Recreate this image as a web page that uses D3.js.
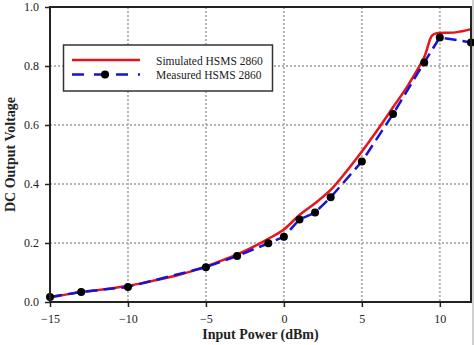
<!DOCTYPE html>
<html><head><meta charset="utf-8">
<script src="https://cdn.jsdelivr.net/npm/d3@7"></script>
<style>body{margin:0;background:#fff}svg{display:block}</style>
</head><body>
<svg id="c" width="474" height="345"></svg>
<script>
const simX = [-15,-14,-13,-12,-11,-10,-9,-8,-7,-6,-5,-4,-3,-2,-1,0,1,2,3,4,5,6,7,8,9,9.5,9.8,10,11,12];
const simY = [0.015,0.025,0.034,0.040,0.047,0.055,0.065,0.076,0.088,0.103,0.121,0.140,0.161,0.186,0.214,0.246,0.295,0.335,0.380,0.442,0.510,0.583,0.660,0.738,0.830,0.903,0.911,0.912,0.914,0.925];
const measX = [-15,-13,-10,-5,-3,-1,0,1,2,3,5,7,9,10,12];
const measY = [0.017,0.034,0.051,0.118,0.156,0.199,0.221,0.280,0.303,0.355,0.476,0.637,0.812,0.897,0.880];
const xTicks = [-15,-10,-5,0,5,10];
const yTicks = [0,0.2,0.4,0.6,0.8,1.0];
const seriesNames = ["Simulated HSMS 2860","Measured HSMS 2860"];
const xTitle = "Input Power (dBm)";
const yTitle = "DC Output Voltage";

const svg = d3.select("#c");
const L=50,R=471,T=7,B=302;
const x = d3.scaleLinear().domain([-15,12]).range([L,R]);
const y = d3.scaleLinear().domain([0,1]).range([B,T]);
const serif = "'Liberation Serif','Times New Roman',serif";

svg.append("rect").attr("x",472).attr("y",0).attr("width",2).attr("height",345).attr("fill","#d0d0d0");

// grid
const g = svg.append("g");
g.selectAll(".gx").data(xTicks.filter(d=>d>-15)).join("line")
 .attr("x1",d=>x(d)).attr("x2",d=>x(d)).attr("y1",T).attr("y2",B)
 .attr("stroke","#b4b4b4").attr("stroke-width",2).attr("stroke-dasharray","2,2");
g.selectAll(".gy").data(yTicks.filter(d=>d>0&&d<1)).join("line")
 .attr("x1",L).attr("x2",R).attr("y1",d=>y(d)).attr("y2",d=>y(d))
 .attr("stroke","#b4b4b4").attr("stroke-width",2).attr("stroke-dasharray","2,2");

// axes
const xa = svg.append("g").attr("transform",`translate(0,${B})`)
 .call(d3.axisBottom(x).tickValues(xTicks).tickSize(5).tickPadding(7).tickFormat(d3.format("d")));
const ya = svg.append("g").attr("transform",`translate(${L},0)`)
 .call(d3.axisLeft(y).tickValues(yTicks).tickSize(5).tickPadding(6).tickFormat(d3.format(".1f")));
[xa,ya].forEach(a=>{
  a.select(".domain").remove();
  a.selectAll("line").attr("stroke","#222").attr("stroke-width",1.5);
  a.selectAll("text").attr("font-family",serif).attr("font-size",12).attr("fill","#222");
});

// lines
const simData = simX.map((d,i)=>[d,simY[i]]);
const measData = measX.map((d,i)=>[d,measY[i]]);
svg.append("path").datum(simData)
 .attr("d",d3.line().x(d=>x(d[0])).y(d=>y(d[1])).curve(d3.curveCatmullRom.alpha(0.5)))
 .attr("fill","none").attr("stroke","#e8141c").attr("stroke-width",2.5);
svg.append("path").datum(measData)
 .attr("d",d3.line().x(d=>x(d[0])).y(d=>y(d[1])))
 .attr("fill","none").attr("stroke","#1414d2").attr("stroke-width",2.5).attr("stroke-dasharray","12,6");
svg.selectAll(".pt").data(measData).join("circle")
 .attr("cx",d=>x(d[0])).attr("cy",d=>y(d[1])).attr("r",4).attr("fill","#000");

// frame
svg.append("rect").attr("x",L).attr("y",T).attr("width",R-L).attr("height",B-T)
 .attr("fill","none").attr("stroke","#222").attr("stroke-width",2);

// legend
const lg = svg.append("g");
lg.append("rect").attr("x",63.5).attr("y",45).attr("width",209).attr("height",46)
 .attr("fill","#fff").attr("stroke","#333").attr("stroke-width",1.5);
lg.append("line").attr("x1",72).attr("x2",140).attr("y1",60).attr("y2",60)
 .attr("stroke","#e8141c").attr("stroke-width",2.5);
lg.append("line").attr("x1",72).attr("x2",140).attr("y1",74.5).attr("y2",74.5)
 .attr("stroke","#1414d2").attr("stroke-width",2.5).attr("stroke-dasharray","12,10");
lg.append("circle").attr("cx",105).attr("cy",74.5).attr("r",4).attr("fill","#000");
lg.selectAll("text").data(seriesNames).join("text")
 .attr("x",156).attr("y",(d,i)=>64.5+i*14.5).text(d=>d)
 .attr("font-family",serif).attr("font-size",11.5).attr("fill","#222");

// titles
svg.append("text").attr("x",(L+R)/2).attr("y",339).attr("text-anchor","middle")
 .attr("font-family",serif).attr("font-weight","bold").attr("font-size",14).attr("fill","#222").text(xTitle);
svg.append("text").attr("transform",`translate(15,${(T+B)/2}) rotate(-90)`).attr("text-anchor","middle")
 .attr("font-family",serif).attr("font-weight","bold").attr("font-size",14).attr("fill","#222").text(yTitle);
</script>
</body></html>
